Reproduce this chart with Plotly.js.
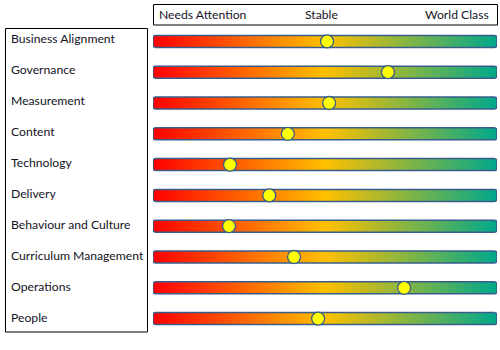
<!DOCTYPE html>
<html>
<head>
<meta charset="utf-8">
<script src="https://cdn.plot.ly/plotly-3.0.1.min.js"></script>
<style>html,body{margin:0;padding:0;background:#fff}#chart{width:500px;height:350px}</style>
</head>
<body>
<div id="chart"></div>
<script>
// ---- data ----
const categories = ["Business Alignment","Governance","Measurement","Content","Technology",
  "Delivery","Behaviour and Culture","Curriculum Management","Operations","People"];
const scores = [50.6, 68.3, 51.2, 39.2, 22.4, 33.8, 22.1, 41.0, 73.0, 48.0];
const scaleMin = [0];
const scaleMax = [100];
const scaleLabels = ["Needs Attention","Stable","World Class"];
const scaleLabelValues = [0, 50, 100];

// ---- style ----
const FONT = "Lato, 'Liberation Sans', Arial, sans-serif";
const OUTLINE = "#385D8A";
const W = 500, H = 350;
const M = {l:153, r:3, t:26, b:16};
const plotW = W - M.l - M.r, plotH = H - M.t - M.b;
const halfH = 0.195;          // half bar thickness in row units
const rad = 2.5;              // corner radius px
const pxX = (scaleMax[0]-scaleMin[0]) / plotW;
const pxY = categories.length / plotH;

function roundedRect(x0, x1, y0, y1) {
  const rx = rad*pxX, ry = rad*pxY;
  const xs = [], ys = [];
  const corners = [
    [x1-rx, y0+ry, -Math.PI/2, 0],
    [x1-rx, y1-ry, 0, Math.PI/2],
    [x0+rx, y1-ry, Math.PI/2, Math.PI],
    [x0+rx, y0+ry, Math.PI, 1.5*Math.PI]
  ];
  corners.forEach(([cx, cy, a0, a1]) => {
    for (let k = 0; k <= 6; k++) {
      const a = a0 + (a1-a0)*k/6;
      xs.push(cx + rx*Math.cos(a));
      ys.push(cy + ry*Math.sin(a));
    }
  });
  xs.push(xs[0]); ys.push(ys[0]);
  return {xs, ys};
}

const traces = [];
categories.forEach((c, i) => {
  const r = roundedRect(scaleMin[0], scaleMax[0], i-halfH, i+halfH);
  traces.push({
    type: "scatter", mode: "lines", x: r.xs, y: r.ys, fill: "toself",
    fillgradient: {type: "horizontal", start: scaleMin[0], stop: scaleMax[0],
      colorscale: [[0,"#FF0000"],[0.5,"#FFC000"],[1,"#00A88C"]]},
    line: {color: OUTLINE, width: 1.5}, hoverinfo: "skip", showlegend: false
  });
});
traces.push({
  type: "scatter", mode: "markers",
  x: scores, y: categories.map((c, i) => i), text: categories,
  marker: {size: 13, color: "#FFFF00", line: {color: OUTLINE, width: 1.3}},
  showlegend: false, cliponaxis: false
});

const annotations = categories.map((c, i) => ({
  text: c, xref: "paper", x: (9 - M.l)/plotW, xanchor: "left",
  yref: "y", y: i - 0.11 + 0.007*i, yanchor: "middle", showarrow: false,
  font: {family: FONT, size: 12.2, color: "#14141e"}
}));
const headY = 1 + (M.t - 14)/plotH;
annotations.push({text: scaleLabels[0], xref: "x", x: scaleLabelValues[0], xanchor: "left", xshift: 4,
  yref: "paper", y: headY, yanchor: "middle", showarrow: false, font: {family: FONT, size: 12.2, color: "#14141e"}});
annotations.push({text: scaleLabels[1], xref: "x", x: scaleLabelValues[1], xanchor: "center", xshift: -4,
  yref: "paper", y: headY, yanchor: "middle", showarrow: false, font: {family: FONT, size: 12.2, color: "#14141e"}});
annotations.push({text: scaleLabels[2], xref: "x", x: scaleLabelValues[2], xanchor: "right", xshift: -6,
  yref: "paper", y: headY, yanchor: "middle", showarrow: false, font: {family: FONT, size: 12.2, color: "#14141e"}});

const px2x = p => (p - M.l)/plotW;
const py2y = p => (H - M.b - p)/plotH;
const shapes = [
  {type: "rect", xref: "paper", yref: "paper", x0: px2x(5.5), x1: px2x(147.5), y0: py2y(332), y1: py2y(28.5),
   line: {color: "#000", width: 1}, fillcolor: "rgba(0,0,0,0)", layer: "below"},
  {type: "rect", xref: "paper", yref: "paper", x0: px2x(153.5), x1: px2x(497.5), y0: py2y(25), y1: py2y(4.5),
   line: {color: "#000", width: 1}, fillcolor: "rgba(0,0,0,0)", layer: "below"}
];

const layout = {
  width: W, height: H, margin: M,
  paper_bgcolor: "#fff", plot_bgcolor: "#fff",
  xaxis: {range: [scaleMin[0], scaleMax[0]], visible: false, fixedrange: true},
  yaxis: {range: [categories.length - 0.5, -0.5], visible: false, fixedrange: true},
  annotations, shapes, showlegend: false, hovermode: "closest"
};
Plotly.newPlot("chart", traces, layout, {displayModeBar: false, staticPlot: true});
</script>
</body>
</html>
